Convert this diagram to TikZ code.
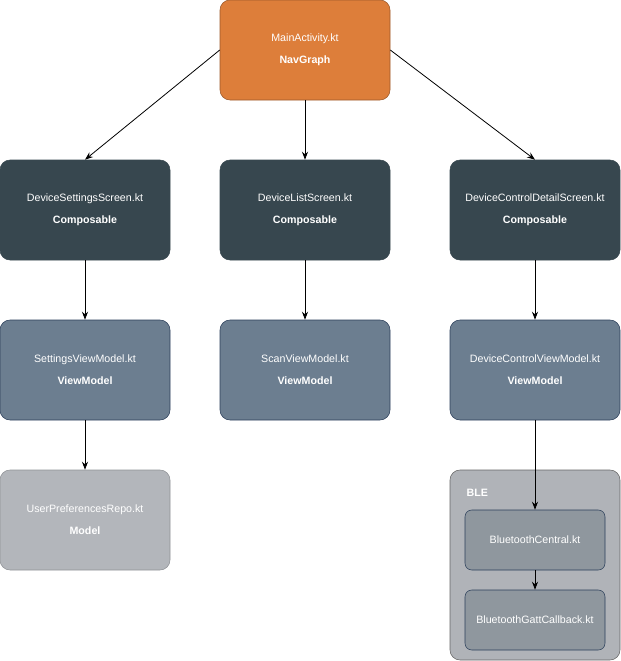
\documentclass[tikz,border=0pt]{standalone}
\usepackage{fontspec}
\setmainfont{Liberation Sans}
\usetikzlibrary{arrows.meta}
\definecolor{orng}{HTML}{DD7E3A}
\definecolor{dark}{HTML}{37474F}
\definecolor{vm}{HTML}{6C7E90}
\definecolor{vmb}{HTML}{2B3F5A}
\definecolor{mdl}{HTML}{B3B6BB}
\definecolor{grp}{HTML}{B0B3B8}
\definecolor{bc}{HTML}{8F979E}
\begin{document}
\begin{tikzpicture}[x=0.75pt,y=-0.75pt,
  box/.style={rounded corners=7.5pt,minimum width=127.5pt,minimum height=75pt,inner sep=0pt,text=white,font=\fontsize{8}{9.5}\selectfont,align=center},
  arr/.style={-{Stealth[length=6pt,width=4.5pt]},thick,black,line width=0.6pt}]
\useasboundingbox (0,0) rectangle (621,661);
\node[box,fill=orng,draw=orng!70!black] (main) at (305,50) {MainActivity.kt\\[7pt]\textbf{NavGraph}};
\node[box,fill=dark,draw=dark] (dss) at (85,210) {DeviceSettingsScreen.kt\\[7pt]\textbf{Composable}};
\node[box,fill=dark,draw=dark] (dls) at (305,210) {DeviceListScreen.kt\\[7pt]\textbf{Composable}};
\node[box,fill=dark,draw=dark] (dcd) at (535,210) {DeviceControlDetailScreen.kt\\[7pt]\textbf{Composable}};
\node[box,fill=vm,draw=vmb] (svm) at (85,370) {SettingsViewModel.kt\\[7pt]\textbf{ViewModel}};
\node[box,fill=vm,draw=vmb] (scvm) at (305,370) {ScanViewModel.kt\\[7pt]\textbf{ViewModel}};
\node[box,fill=vm,draw=vmb] (dcvm) at (535,370) {DeviceControlViewModel.kt\\[7pt]\textbf{ViewModel}};
\node[box,fill=mdl,draw=mdl!80!black] (upr) at (85,520) {UserPreferencesRepo.kt\\[7pt]\textbf{Model}};
\node[box,fill=grp,draw=black!60,minimum height=142.5pt] (ble) at (535,565) {};
\node[text=white,font=\fontsize{8}{9.5}\selectfont\bfseries,anchor=west] (blel) at (462,493) {BLE};
\node[box,fill=bc,draw=vmb,minimum width=105pt,minimum height=45pt,rounded corners=5pt] (bcn) at (535,540) {BluetoothCentral.kt};
\node[box,fill=bc,draw=vmb,minimum width=105pt,minimum height=45pt,rounded corners=5pt] (bgc) at (535,620) {BluetoothGattCallback.kt};
\draw[arr] (main.west) -- (dss.north);
\draw[arr] (main) -- (dls);
\draw[arr] (main.east) -- (dcd.north);
\draw[arr] (dss) -- (svm);
\draw[arr] (dls) -- (scvm);
\draw[arr] (dcd) -- (dcvm);
\draw[arr] (svm) -- (upr);
\draw[arr] (dcvm) -- (bcn);
\draw[arr] (bcn) -- (bgc);
\end{tikzpicture}
\end{document}
